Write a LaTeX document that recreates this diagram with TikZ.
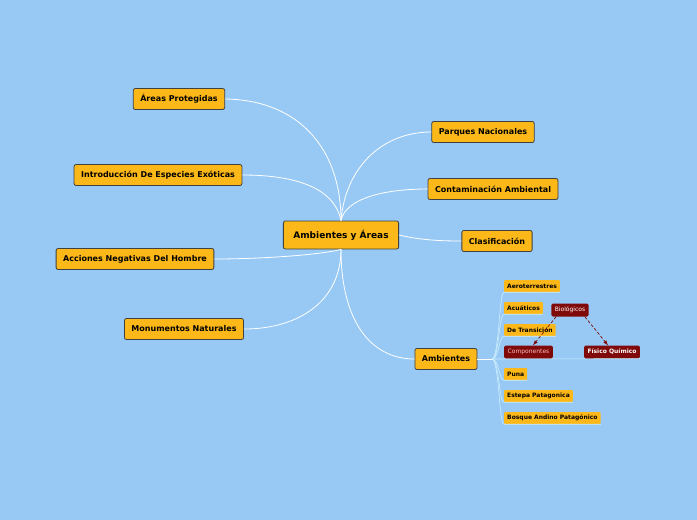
\documentclass[tikz,border=0pt]{standalone}
\usepackage{fontspec}
\setmainfont{DejaVu Sans}
\definecolor{nodefill}{RGB}{252,184,24}
\definecolor{darkred}{RGB}{128,10,10}
\begin{document}
\begin{tikzpicture}[x=1pt,y=-1pt,
  box/.style={draw=black!75,line width=0.8pt,fill=nodefill,rounded corners=2pt,font=\bfseries\fontsize{8}{9}\selectfont,inner xsep=7pt,minimum height=21pt},
  mainbox/.style={box,font=\bfseries\fontsize{9}{10}\selectfont,minimum height=28pt,inner xsep=10pt},
  leaf/.style={anchor=west,fill=nodefill,rounded corners=1pt,font=\bfseries\fontsize{6}{7}\selectfont,inner xsep=3pt,minimum height=12pt,inner ysep=1pt},
  redbox/.style={fill=darkred,text=white,rounded corners=1.5pt,font=\fontsize{6}{7}\selectfont,inner xsep=3.5pt,minimum height=13pt,inner ysep=1pt},
  link/.style={white,line width=0.8pt},
  thinlink/.style={white!80!cyan,line width=0.6pt},
  dashlink/.style={darkred,densely dashed,line width=0.7pt,-latex}]
\fill[color={rgb,255:red,152;green,201;blue,245}] (0,0) rectangle (697,520);
\node[mainbox] (c) at (341,235) {Ambientes y Áreas};
\node[box] (ap) at (179,99) {Áreas Protegidas};
\node[box] (ie) at (158,175) {Introducción De Especies Exóticas};
\node[box] (an) at (135,259) {Acciones Negativas Del Hombre};
\node[box] (mn) at (184,329) {Monumentos Naturales};
\node[box] (pn) at (483,132) {Parques Nacionales};
\node[box] (ca) at (493,189) {Contaminación Ambiental};
\node[box] (cl) at (497,241) {Clasificación};
\node[box] (am) at (446,359) {Ambientes};
\draw[link] (c.north) .. controls (341,150) and (300,100) .. (ap.east);
\draw[link] (c.north) .. controls (335,190) and (300,175) .. (ie.east);
\draw[link] (c.south) .. controls (320,255) and (260,259) .. (an.east);
\draw[link] (c.south) .. controls (341,300) and (300,329) .. (mn.east);
\draw[link] (c.north) .. controls (345,170) and (380,132) .. (pn.west);
\draw[link] (c.north) .. controls (345,200) and (380,189) .. (ca.west);
\draw[link] (c.east) .. controls (420,240) and (440,241) .. (cl.west);
\draw[link] (c.south) .. controls (341,320) and (370,359) .. (am.west);
\node[leaf] (l1) at (504,286) {Aeroterrestres};
\node[leaf] (l2) at (504,308) {Acuáticos};
\node[leaf] (l3) at (504,330) {De Transición};
\node[redbox,anchor=west,text=white!75!red] (l4) at (504,352) {Componentes};
\node[leaf] (l5) at (504,374) {Puna};
\node[leaf] (l6) at (504,396) {Estepa Patagonica};
\node[leaf] (l7) at (504,418) {Bosque Andino Patagónico};
\node[redbox] (bio) at (570,310) {Biológicos};
\node[redbox,font=\bfseries\fontsize{6}{7}\selectfont] (fq) at (612,352) {Físico Químico};
\coordinate (hub) at (492,359);
\draw[link] (am.east) -- (hub);
\foreach \l in {l1,l2,l3,l5,l6,l7}{
  \draw[thinlink] (hub) .. controls (499,359) and (499,0|-\l.south) .. (\l.south west) -- (\l.south east);}
\draw[thinlink] (hub) -- (fq.south east);
\draw[dashlink] ([xshift=5pt]bio.south west) -- ([xshift=-20pt]l4.north east);
\draw[dashlink] ([xshift=-4pt]bio.south east) -- ([xshift=-4pt]fq.north);
\end{tikzpicture}
\end{document}
